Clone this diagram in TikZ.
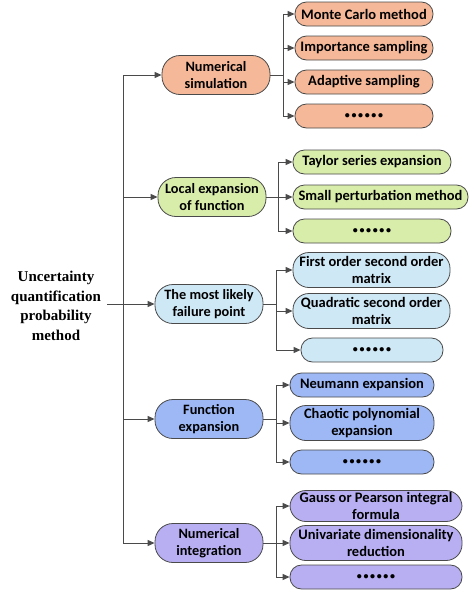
\documentclass[tikz,border=0pt]{standalone}
\usepackage{fontspec}
\setmainfont{Carlito}
\newfontfamily\titlefont{Liberation Serif}
\usepackage{tikz}
\usetikzlibrary{arrows.meta}
\usetikzlibrary{positioning}
\usepackage{xcolor}
\definecolor{linegray}{HTML}{4A4A4A}
\definecolor{simorange}{HTML}{F5B898}
\definecolor{locgreen}{HTML}{D9EDAA}
\definecolor{mplblue}{HTML}{CFE8F6}
\definecolor{funblue}{HTML}{9DB8F5}
\definecolor{intpurple}{HTML}{B8AFF2}
\tikzset{
    root/.style={
        align=center,
        inner xsep=6pt,
        font=\titlefont\bfseries\fontsize{15}{19.5}\selectfont
    },
    topic/.style={
        draw=linegray,
        rounded corners=18pt,
        line width=0.8pt,
        minimum width=108pt,
        minimum height=39pt,
        inner xsep=2pt,
        inner ysep=1pt,
        align=center,
        font=\bfseries\fontsize{14.3}{16.5}\selectfont
    },
    leaf/.style={
        draw=linegray,
        rounded corners=11.5pt,
        line width=0.8pt,
        minimum height=24pt,
        inner xsep=1pt,
        inner ysep=1pt,
        align=center,
        font=\bfseries\fontsize{14.5}{17}\selectfont
    },
    leaftwo/.style={
        leaf,
        rounded corners=16pt,
        minimum height=35pt
    },
    link/.style={
        draw=linegray,
        line width=1pt,
        -{Triangle[length=7pt, width=6pt]}
    }
}
\newcommand{\moredots}{{\fontsize{10}{10}\selectfont\textbullet\,\textbullet\,\textbullet\,\textbullet\,\textbullet\,\textbullet}}

\begin{document}
\begin{tikzpicture}[x=1pt, y=-1pt]
  \useasboundingbox (0,0) rectangle (474,595);

  % Root
  \node[root] (root) at (56,306) {Uncertainty\\quantification\\probability\\method};

  % First level
  \node[topic, fill=simorange] (num) at (216,75) {Numerical\\simulation};
  \node[topic, fill=locgreen] (loc) at (212,197) {Local expansion\\of function};
  \node[topic, fill=mplblue] (mpl) at (209,304) {The most likely\\failure point};
  \node[topic, fill=funblue] (fun) at (209,419) {Function\\expansion};
  \node[topic, fill=intpurple] (int) at (209,543) {Numerical\\integration};

  % Spine
  \coordinate (sptop) at (123,75);
  \coordinate (spbot) at (123,543);
  \draw[linegray, line width=1pt] (sptop) -- (spbot);
  \draw[link] (root.east |- mpl) -- (mpl.west);
  \foreach \t in {num, loc, fun, int}
    \draw[link] (sptop) |- (\t.west);

  % Numerical simulation
  \node[leaf, fill=simorange, minimum width=138pt] (mc) at (364,14) {Monte Carlo method};
  \node[leaf, fill=simorange, minimum width=138pt] (is) at (364,48) {Importance sampling};
  \node[leaf, fill=simorange, minimum width=138pt] (as) at (364,82) {Adaptive sampling};
  \node[leaf, fill=simorange, minimum width=138pt] (numd) at (364,116) {\moredots};
  \coordinate (bnum) at (283,75);
  \draw[linegray, line width=1pt] (num.east) -- (bnum);
  \foreach \c in {mc, is, as, numd}
    \draw[link] (bnum) |- (\c.west);

  % Local expansion of function
  \node[leaf, fill=locgreen, minimum width=158pt] (ts) at (372,162) {Taylor series expansion};
  \node[leaf, fill=locgreen, minimum width=175pt] (sp) at (380.5,197) {Small perturbation method};
  \node[leaf, fill=locgreen, minimum width=158pt] (locd) at (372,231) {\moredots};
  \coordinate (bloc) at (278,197);
  \draw[linegray, line width=1pt] (loc.east) -- (bloc);
  \foreach \c in {ts, sp, locd}
    \draw[link] (bloc) |- (\c.west);

  % The most likely failure point
  \node[leaftwo, fill=mplblue, minimum width=157pt] (fo) at (371.5,270) {First order second order\\matrix};
  \node[leaftwo, fill=mplblue, minimum width=157pt] (qs) at (371.5,311) {Quadratic second order\\matrix};
  \node[leaf, fill=mplblue, minimum width=142pt] (mpld) at (372,350) {\moredots};
  \coordinate (bmpl) at (276,304);
  \draw[linegray, line width=1pt] (mpl.east) -- (bmpl);
  \foreach \c in {fo, qs, mpld}
    \draw[link] (bmpl) |- (\c.west);

  % Function expansion
  \node[leaf, fill=funblue, minimum width=144pt] (ne) at (362,385) {Neumann expansion};
  \node[leaftwo, fill=funblue, minimum width=144pt] (cp) at (362,423) {Chaotic polynomial\\expansion};
  \node[leaf, fill=funblue, minimum width=144pt] (fund) at (362,462) {\moredots};
  \coordinate (bfun) at (276,419);
  \draw[linegray, line width=1pt] (fun.east) -- (bfun);
  \foreach \c in {ne, cp, fund}
    \draw[link] (bfun) |- (\c.west);

  % Numerical integration
  \node[leaftwo, fill=intpurple, minimum width=172pt, minimum height=31pt] (gp) at (376,506) {Gauss or Pearson integral\\formula};
  \node[leaftwo, fill=intpurple, minimum width=172pt] (ud) at (376,543) {Univariate dimensionality\\reduction};
  \node[leaf, fill=intpurple, minimum width=172pt] (intd) at (376,577) {\moredots};
  \coordinate (bint) at (276,543);
  \draw[linegray, line width=1pt] (int.east) -- (bint);
  \foreach \c in {gp, ud, intd}
    \draw[link] (bint) |- (\c.west);
\end{tikzpicture}
\end{document}
